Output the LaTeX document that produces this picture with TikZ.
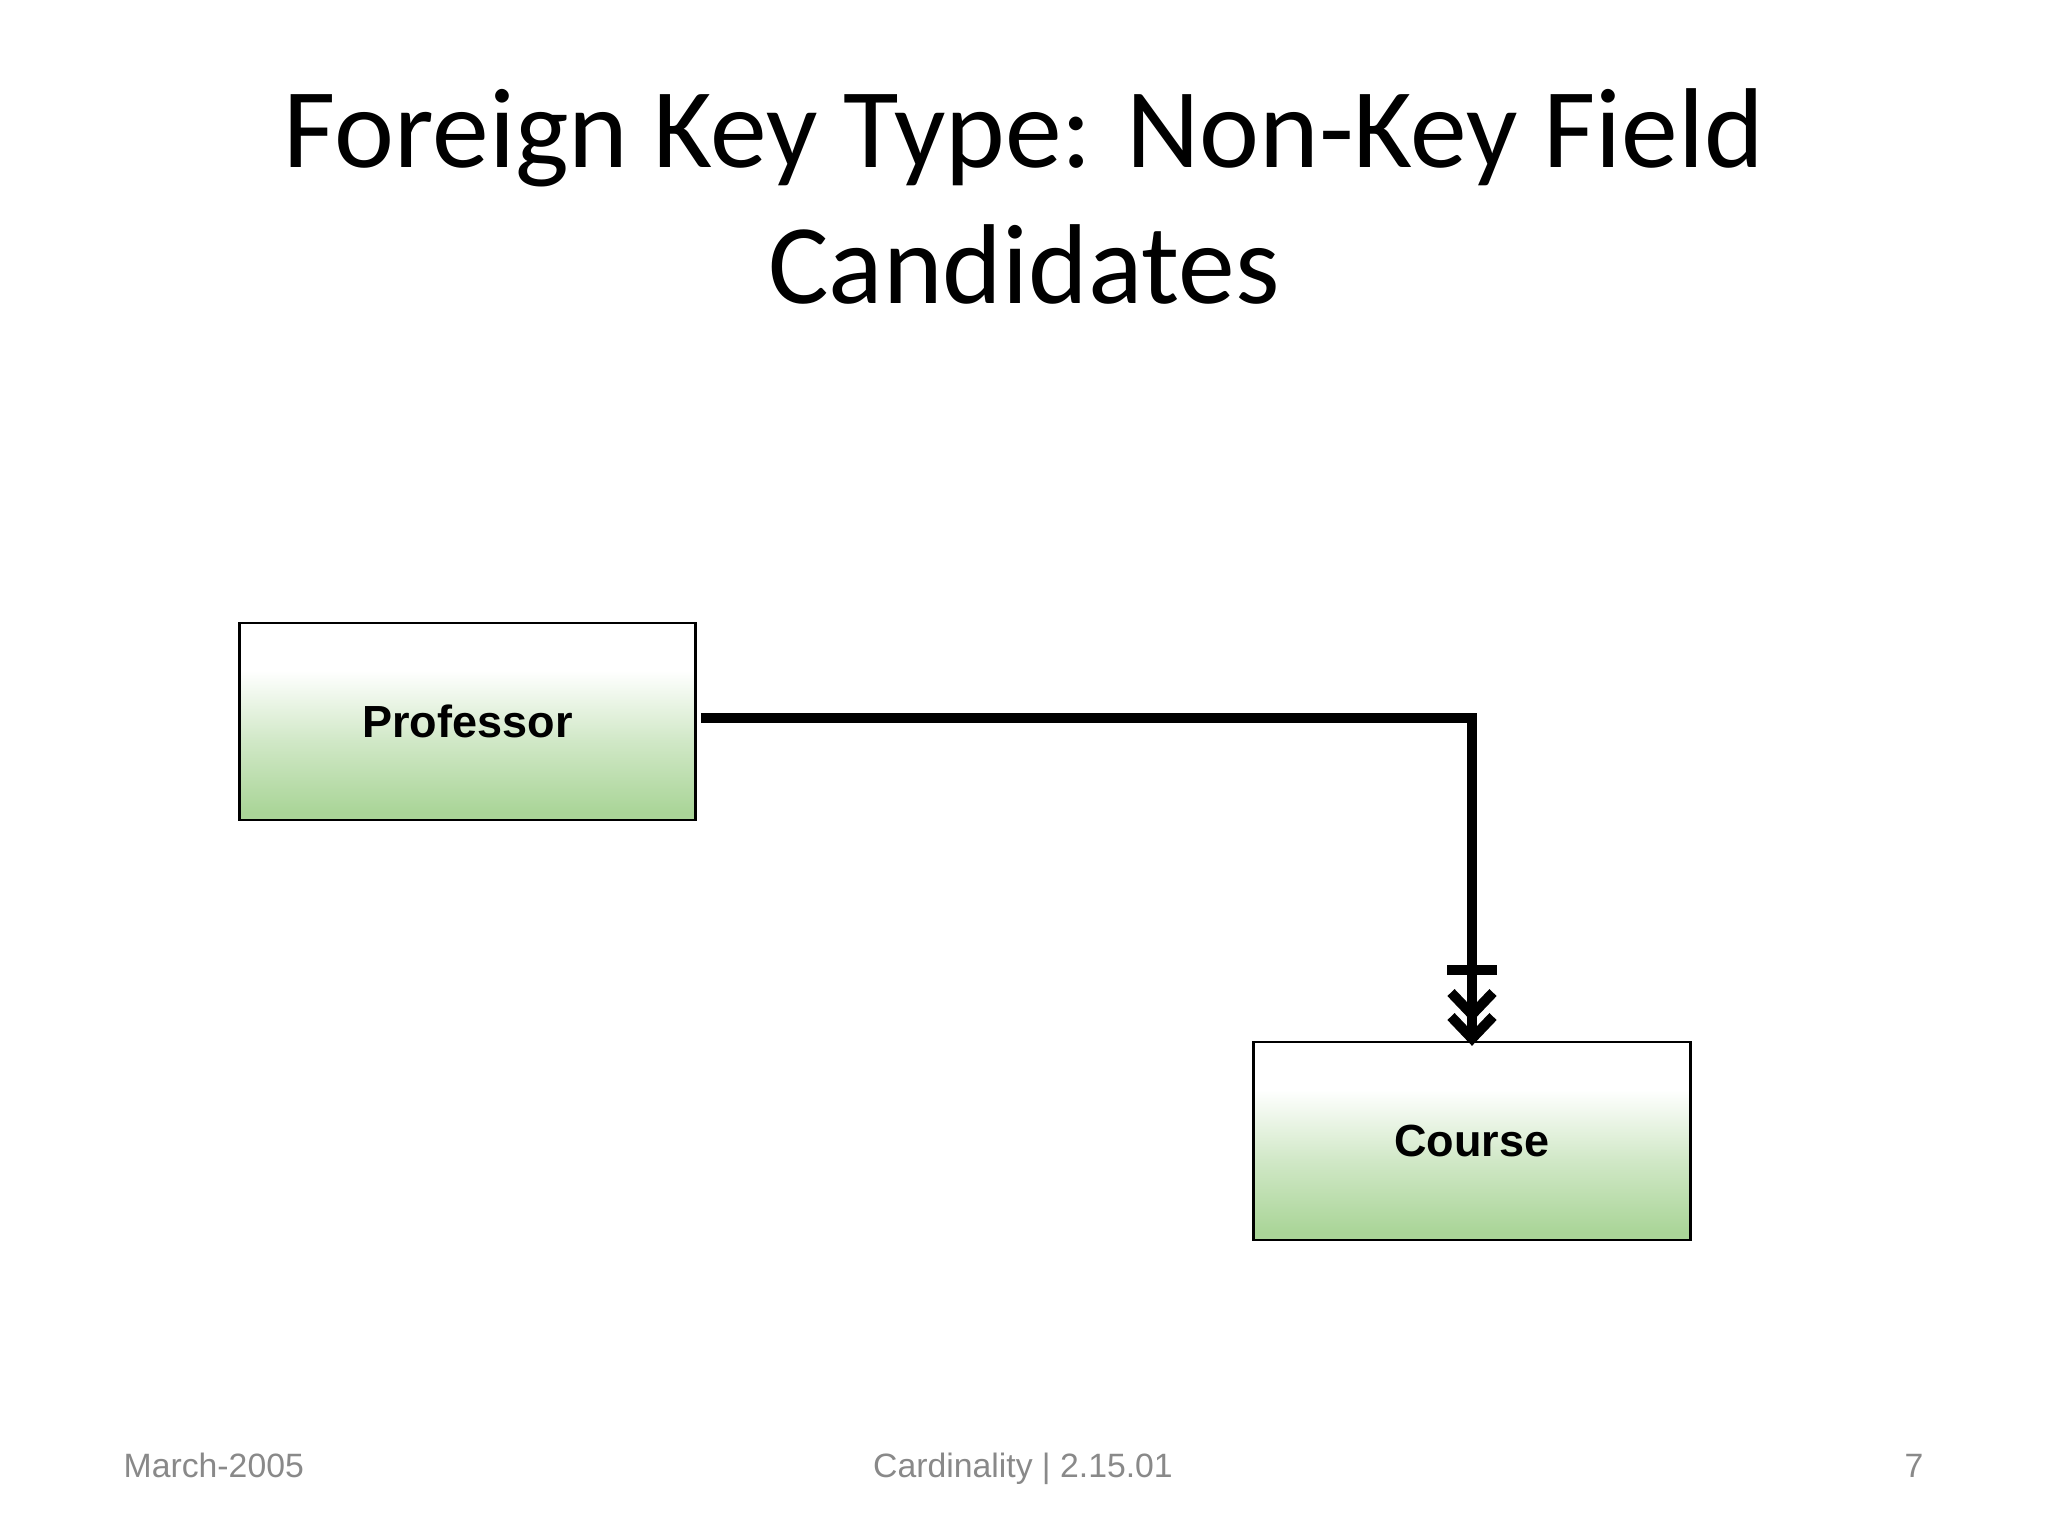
\documentclass[tikz,border=0pt]{standalone}
\usepackage{fontspec}
\setmainfont{Liberation Sans}
\newfontfamily\titlefont{Carlito}
\usetikzlibrary{calc}
\definecolor{boxgreen}{RGB}{170,213,152}
\definecolor{footgray}{RGB}{137,137,137}
\pgfdeclareverticalshading{entityfill}{100bp}{color(0bp)=(boxgreen); color(27bp)=(boxgreen); color(45bp)=(boxgreen!55!white); color(63bp)=(white); color(100bp)=(white)}

\begin{document}
\begin{tikzpicture}[x=0.01cm, y=-0.01cm,
    entity/.style={draw=black, line width=0.8pt, shading=entityfill,
        minimum width=4.55cm, minimum height=1.97cm, inner sep=0pt,
        font=\bfseries\fontsize{12.8pt}{15pt}\selectfont},
    conn/.style={line width=2.85pt},
    footer/.style={text=footgray, font=\fontsize{9.6pt}{11pt}\selectfont, inner sep=0pt, anchor=base}]
\useasboundingbox (0,0) rectangle (2048,1536);

% Titel
\node[anchor=base, font=\titlefont\fontsize{32.3pt}{38pt}\selectfont] (title1) at (1024,167) {Foreign Key Type: Non-Key Field};
\node[anchor=base, font=\titlefont\fontsize{32.3pt}{38pt}\selectfont] (title2) at (1024,303) {Candidates};

% Entities
\node[entity] (prof) at (467.5,721.5) {Professor};
\node[entity, minimum width=4.36cm, minimum height=1.98cm] (course) at (1472,1141) {Course};

% Relationship
\draw[conn, shorten <=1.2pt] ($(prof.east)+(0,-3.5)$) -| (course.north);
\draw[conn] ($(course.north)+(-25,-71)$) -- ++(50,0);
\draw[conn, line join=miter] ($(course.north)+(-21,-48)$) -- ($(course.north)+(0,-26)$) -- ++(21,-22);
\draw[conn, line join=miter] ($(course.north)+(-21,-24)$) -- ($(course.north)+(0,-2)$) -- ++(21,-22);

% Footer
\node[footer, anchor=base west] (date) at (123,1477) {March-2005};
\node[footer] (topic) at (1023,1477) {Cardinality | 2.15.01};
\node[footer, anchor=base east] (page) at (1924,1477) {7};
\end{tikzpicture}
\end{document}
